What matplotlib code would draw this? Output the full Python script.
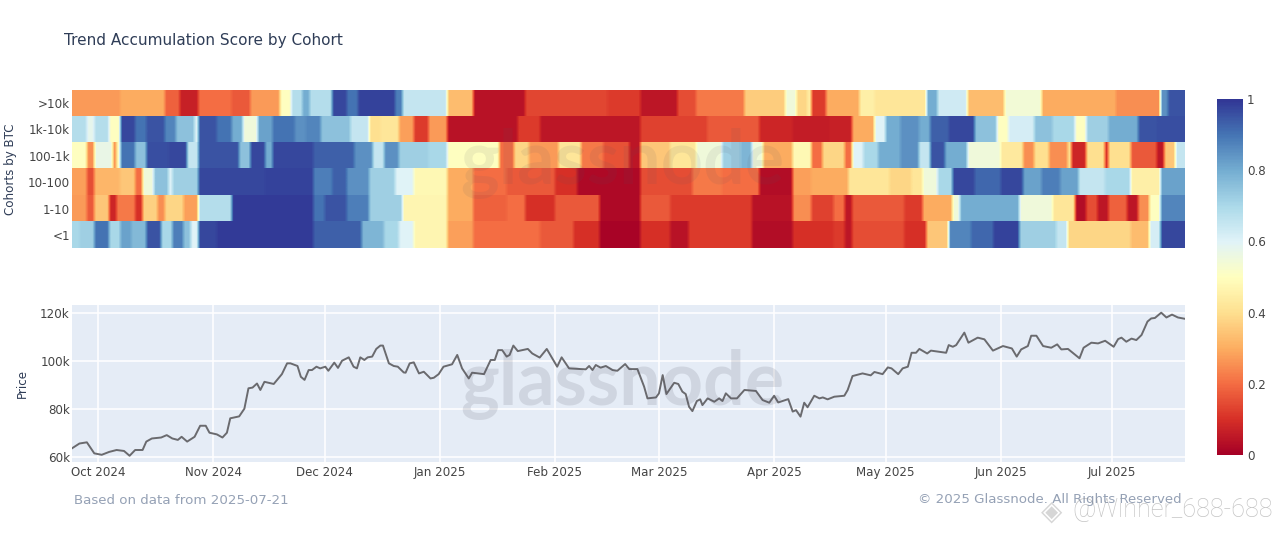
import numpy as np
import matplotlib
matplotlib.use("Agg")
import matplotlib.pyplot as plt
import matplotlib.dates as mdates
from datetime import datetime

start = datetime(2024, 9, 24)  # first day of the heatmap
cohorts = [">10k", "1k-10k", "100-1k", "10-100", "1-10", "<1"]

# heatmap rows: each run of days ends at *_end (days since start) with score *_val
gt10k_end = [13, 25, 29, 34, 43, 48, 56, 59, 62, 64, 70, 74, 77, 87, 89, 101, 108, 122, 144, 153, 163, 168, 181, 192, 195, 198, 199, 203, 212, 216, 222, 230, 233, 241, 251, 261, 281, 293, 295, 300]
gt10k_val = [.27, .3, .18, .07, .2, .17, .27, .5, .68, .8, .68, .97, .9, .98, .88, .65, .33, .04, .14, .12, .05, .15, .22, .36, .55, .38, .45, .12, .3, .45, .42, .42, .8, .63, .33, .54, .3, .25, .85, .95]

k1_10k_end = [4, 6, 10, 13, 17, 20, 25, 28, 33, 34, 39, 43, 46, 50, 54, 60, 63, 67, 75, 80, 83, 88, 92, 96, 101, 120, 126, 153, 171, 185, 194, 204, 210, 216, 219, 223, 228, 231, 236, 243, 249, 252, 259, 264, 270, 273, 279, 287, 292, 300]
k1_10k_val = [.68, .58, .68, .5, .97, .9, .95, .87, .75, .6, .95, .9, .8, .55, .82, .9, .85, .87, .75, .65, .4, .42, .28, .12, .27, .04, .12, .05, .13, .17, .08, .06, .07, .3, .6, .8, .85, .8, .93, .97, .75, .5, .62, .75, .7, .5, .72, .8, .95, .96]

h100_1k_end = [4, 6, 11, 12, 13, 17, 20, 26, 31, 34, 45, 48, 52, 54, 65, 76, 81, 84, 88, 96, 101, 115, 119, 123, 131, 137, 143, 150, 153, 161, 168, 175, 180, 183, 186, 194, 199, 202, 208, 210, 213, 217, 223, 228, 231, 235, 241, 250, 256, 259, 263, 268, 269, 273, 278, 279, 285, 292, 294, 297, 300]
h100_1k_val = [.5, .25, .57, .25, .5, .9, .75, .96, .97, .65, .95, .75, .97, .8, .97, .93, .85, .65, .85, .72, .7, .5, .2, .38, .27, .42, .22, .16, .05, .35, .42, .55, .72, .78, .55, .3, .48, .2, .38, .2, .6, .7, .8, .85, .65, .95, .8, .55, .43, .25, .4, .25, .4, .08, .4, .1, .4, .17, .05, .35, .65]

t10_100_end = [4, 6, 13, 17, 19, 22, 26, 27, 34, 52, 65, 70, 74, 80, 87, 92, 101, 108, 117, 130, 136, 153, 167, 175, 185, 194, 199, 209, 220, 226, 229, 233, 237, 243, 250, 256, 261, 266, 271, 278, 285, 293, 300]
t10_100_val = [.28, .15, .32, .35, .2, .55, .75, .6, .72, .97, .98, .88, .93, .85, .72, .6, .48, .3, .2, .17, .1, .02, .15, .22, .2, .03, .28, .3, .42, .38, .42, .55, .7, .97, .92, .97, .82, .88, .82, .65, .7, .45, .82]

o1_10_end = [4, 6, 10, 12, 17, 19, 23, 25, 30, 34, 43, 65, 68, 74, 80, 89, 101, 108, 117, 122, 130, 142, 153, 161, 183, 194, 199, 205, 208, 210, 224, 229, 237, 239, 255, 264, 270, 273, 276, 279, 284, 287, 290, 293, 300]
o1_10_val = [.27, .17, .35, .08, .22, .1, .37, .25, .38, .28, .68, .99, .9, .95, .88, .72, .47, .3, .18, .2, .1, .17, .02, .17, .12, .04, .25, .13, .2, .05, .17, .12, .3, .55, .8, .55, .42, .03, .15, .05, .18, .05, .25, .5, .87]

lt1_end = [2, 6, 10, 13, 16, 20, 24, 27, 30, 32, 34, 39, 65, 78, 84, 88, 92, 101, 108, 126, 135, 142, 153, 161, 166, 183, 194, 205, 208, 210, 224, 230, 236, 242, 248, 255, 265, 268, 285, 290, 293, 300]
lt1_val = [.7, .72, .9, .7, .82, .77, .95, .7, .88, .75, .6, .97, .99, .93, .78, .7, .6, .47, .28, .2, .17, .1, .01, .1, .04, .12, .03, .1, .12, .05, .15, .1, .35, .87, .92, .98, .72, .65, .38, .33, .62, .97]

# price in thousands, days since start
price_day = [0, 2, 4, 6, 8, 10, 12, 14, 15.5, 17, 19, 20, 21.5, 24, 25.5, 27, 28.5, 29.5, 31, 33, 34.5, 36, 37, 39, 40.5, 41.7, 42.6, 45, 46.4, 47.5, 48.6, 49.8, 50.7, 51.8, 54.3, 56.5, 57.9, 58.8, 60.7, 61.6, 62.6, 63.7, 64.6, 65.8, 66.8, 68.2, 69, 70.6, 71.6, 72.7, 74.5, 75.8, 76.7, 77.6, 78.7, 79.6, 80.8, 81.9, 83, 83.7, 85.3, 86.6, 87.7, 89.3, 89.8, 90.9, 92, 93.4, 94.7, 96.5, 97.4, 98.7, 100, 102.3, 103.7,
             105, 106.8, 107.7, 110.9, 112.7, 113.8, 114.7, 115.8, 117, 117.8, 118.8, 120, 122.7, 123.9, 125.9, 127.8, 130.6, 131.8, 133.8, 138.3, 139.2, 140.1, 141, 142.3, 143.7, 145.5, 146.8, 148.9, 150, 152.2, 154, 154.9, 157.2, 158, 159, 160, 162.1, 163.2, 164.3, 165.2, 166.1, 167, 168.2, 169.1, 169.7, 171.1, 172.9, 174.2, 175.1, 176, 177.4, 179, 181, 184.1, 185.9, 187.7, 189, 190.1, 192.8, 194, 194.9, 196.1, 197.1, 198, 199.8, 201.2, 202.1,
             203.4, 205.2, 207.9, 208.8, 210.1, 212.8, 215, 216, 218.2, 219.6, 220.6, 222.4, 223.6, 225, 226, 227.2, 228.1, 230.2, 231.2, 235.3, 236, 237.1, 238, 240.2, 241.3, 243.8, 245.6, 247.9, 250.6, 253, 254.3, 255.5, 257.3, 258.2, 259.6, 261.4, 263.6, 265.2, 266.3, 268.1, 271.2, 272.3, 274.4, 276.2, 278.1, 280.4, 281.6, 282.5, 283.8, 285.2, 286.5, 287.9, 289.5, 290.5, 291.5, 293.2, 294.6, 296.1, 297.7, 299.4]
price_k = [63.5, 65.5, 66, 61.4, 60.8, 62, 62.8, 62.4, 60.4, 62.8, 62.8, 66.3, 67.6, 68, 69, 67.6, 67, 68.3, 66.3, 68.3, 72.9, 72.9, 70, 69.3, 68, 70, 76, 76.8, 80, 88.5, 88.8, 90.5, 87.8, 91.2, 90.3, 94.4, 98.9, 98.9, 97.8, 93.3, 92, 96.1, 96.1, 97.5, 96.8, 97.5, 95.8, 99.2, 97, 100, 101.4, 97.5, 96.8, 101.4, 100.3, 101.4, 101.7, 104.9, 106.3, 106.3, 98.9, 97.8, 97.5, 95.1, 95, 98.9, 99.3, 94.7, 95.4, 92.6, 92.9, 94.4, 97.5, 98.5, 102.4,
           96.8, 92.6, 95, 94.4, 100.3, 100.3, 104.4, 104.4, 101.7, 102.4, 106.3, 104, 104.9, 103, 101.3, 104.9, 97.5, 101.4, 96.8, 96.4, 97.8, 96.1, 98.2, 97.1, 97.8, 96.1, 95.8, 98.6, 96.5, 96.5, 89.2, 84.3, 84.7, 86.4, 94, 86.1, 90.8, 90.3, 87.1, 86.1, 80.8, 79, 83.2, 83.9, 81.5, 84.3, 82.9, 84.3, 83.2, 86.4, 84.3, 84.3, 87.8, 87.4, 83.6, 82.5, 85.4, 82.6, 84, 78.8, 79.4, 76.7, 82.5, 80.6, 85.4, 84.3, 84.7,
           83.9, 85, 85.4, 87.8, 93.6, 94.7, 93.9, 95.3, 94.4, 97.2, 96.8, 94.4, 96.8, 97.5, 103.3, 103.3, 104.9, 103, 104.2, 103.3, 106.5, 105.8, 106.5, 111.7, 107.5, 109.6, 108.9, 104.2, 106.1, 105.1, 101.7, 104.7, 106.1, 110.4, 110.4, 106.1, 105.4, 106.8, 104.7, 104.9, 101, 105.4, 107.5, 107.2, 108.3, 105.8, 109, 109.6, 107.9, 109.2, 108.6, 110.7, 116.3, 117.6, 117.8, 120, 118, 119.2, 118, 117.5]

month_ticks = [datetime(2024, 10, 1), datetime(2024, 11, 1), datetime(2024, 12, 1), datetime(2025, 1, 1), datetime(2025, 2, 1),
               datetime(2025, 3, 1), datetime(2025, 4, 1), datetime(2025, 5, 1), datetime(2025, 6, 1), datetime(2025, 7, 1)]
price_ticks = [60, 80, 100, 120]
cbar_ticks = [0, 0.2, 0.4, 0.6, 0.8, 1]
cbar_labels = ["0", "0.2", "0.4", "0.6", "0.8", "1"]


def expand(ends, vals):
    return np.repeat(vals, np.diff([0] + ends))


W, H = 1280, 536
TXT = "#2f3d57"
TICK = "#444444"

plt.rcParams["font.family"] = ["DejaVu Sans"]
fig = plt.figure(figsize=(W / 100, H / 100), dpi=100)


def box(l, t, r, b):
    return [l / W, 1 - b / H, (r - l) / W, (b - t) / H]


x0 = mdates.date2num(start)
xlim = (x0, x0 + 299.6)

# cohort heatmap, one image per row so the blur stays horizontal
z = np.array([expand(gt10k_end, gt10k_val), expand(k1_10k_end, k1_10k_val), expand(h100_1k_end, h100_1k_val),
              expand(t10_100_end, t10_100_val), expand(o1_10_end, o1_10_val), expand(lt1_end, lt1_val)])
ax1 = fig.add_axes(box(72, 90, 1185, 248))
for i in range(6):
    im = ax1.imshow(z[i:i + 1], cmap="RdYlBu", vmin=0, vmax=1, aspect="auto", interpolation="bilinear",
                    extent=(x0, x0 + z.shape[1], i + 1, i))
ax1.set_xlim(xlim)
ax1.set_ylim(6, 0)
ax1.set_xticks([])
ax1.set_yticks(np.arange(6) + 0.5)
ax1.set_yticklabels(cohorts, fontsize=8.6, color=TICK)
ax1.tick_params(length=0, pad=1.5)
for s in ax1.spines.values():
    s.set_visible(False)

# price panel
ax2 = fig.add_axes(box(72, 305, 1185, 462), facecolor="#e5ecf6")
price_x = x0 + np.array(price_day)
ax2.plot(price_x, price_k, color="#6a6a6e", lw=1.4, zorder=3)
ax2.set_xlim(xlim)
ax2.set_ylim(57.8, 123.2)
ax2.set_xticks(mdates.date2num(month_ticks))
ax2.set_xticklabels([d.strftime("%b %Y") for d in month_ticks], fontsize=8.6, color=TICK)
ax2.set_yticks(price_ticks)
ax2.set_yticklabels([f"{p}k" for p in price_ticks], fontsize=8.6, color=TICK)
ax2.tick_params(axis="x", length=0, pad=3)
ax2.tick_params(axis="y", length=0, pad=1.5)
ax2.grid(color="white", lw=1.4, alpha=0.8, zorder=1)
ax2.set_axisbelow(True)
for s in ax2.spines.values():
    s.set_visible(False)

# colorbar
cax = fig.add_axes(box(1217, 99, 1243, 455))
cb = fig.colorbar(im, cax=cax, ticks=cbar_ticks)
cb.ax.set_yticklabels(cbar_labels, fontsize=8.6, color=TICK)
cb.ax.tick_params(length=0, pad=3)
cb.outline.set_visible(False)

# texts
fig.text(64 / W, 1 - 40 / H, "Trend Accumulation Score by Cohort", fontsize=10.95, color=TXT, va="center")
fig.text(11 / W, 1 - 169 / H, "Cohorts by BTC", fontsize=8.6, color=TXT, rotation=90, va="center", ha="center")
fig.text(22 / W, 1 - 384 / H, "Price", fontsize=8.6, color=TXT, rotation=90, va="center", ha="center")
fig.text(74 / W, 1 - 500 / H, "Based on data from 2025-07-21", fontsize=9.65, color="#95a1b5", va="center")
fig.text(1182 / W, 1 - 500 / H, "© 2025 Glassnode. All Rights Reserved", fontsize=9.65, color="#95a1b5", va="center", ha="right")
fig.text(1052 / W, 1 - 512 / H, "◈", fontsize=20, color="#9a9a9a", alpha=0.4, va="center", ha="center")
fig.text(1072 / W, 1 - 510 / H, "@Winner_688-688", fontsize=18.1, color="#8a8a8a", alpha=0.5, va="center", family="Roboto", weight="light")

# watermarks
fig.text(460 / W, 1 - 184 / H, "glassnode", fontsize=53, family="Lato", weight="bold", color="#555566", alpha=0.09, va="baseline")
fig.text(460 / W, 1 - 405 / H, "glassnode", fontsize=53, family="Lato", weight="bold", color="#555566", alpha=0.15, va="baseline")

fig.savefig("out.png", dpi=100)
